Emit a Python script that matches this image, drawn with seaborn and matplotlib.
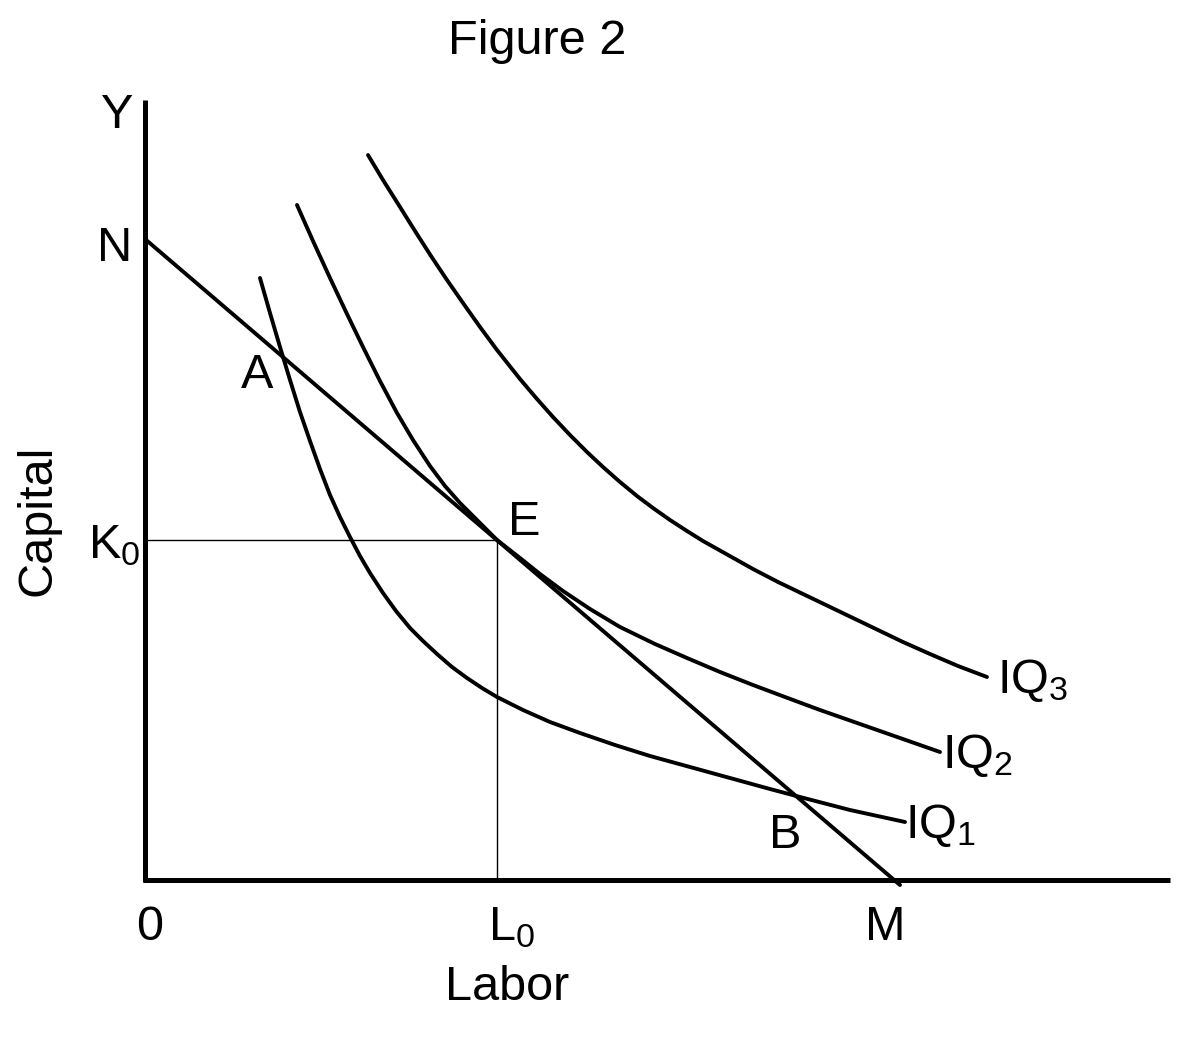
import matplotlib
matplotlib.use("Agg")
import matplotlib.pyplot as plt
import seaborn as sns

# Isoquant diagram: values
# (labor on x, capital on y, origin at 0)
iq1_labor = [115, 125, 135, 145, 155, 165, 175, 185, 195, 205, 215, 225, 238, 251, 265, 278,
             292, 307, 322, 337, 352, 378, 405, 435, 470, 505, 545, 585, 625, 655, 705, 760]
iq1_capital = [602, 567, 533, 500, 468, 439, 411, 385, 363, 343, 324, 307, 287, 269, 252, 239,
               226, 213, 202, 192, 183, 170, 158, 147, 135, 124, 113, 102, 91, 83, 70, 58]

iq2_labor = [152, 168, 185, 202, 218, 235, 252, 268, 285, 300, 315, 335, 352, 375, 395,
             418, 445, 475, 510, 542, 575, 608, 640, 675, 715, 755, 795]
iq2_capital = [675, 639, 602, 566, 533, 499, 467, 440, 414, 394, 377, 357, 340, 322, 306,
               289, 271, 253, 236, 222, 208, 195, 183, 170, 156, 142, 128]

iq3_labor = [223, 238, 255, 270, 286, 302, 318, 335, 352, 375, 392, 408, 425, 442, 458, 475,
             492, 508, 525, 542, 558, 583, 608, 633, 658, 683, 708, 733, 758, 785, 813, 842]
iq3_capital = [725, 700, 673, 649, 624, 600, 577, 553, 530, 501, 481, 463, 445, 428, 413, 398,
               384, 372, 360, 349, 339, 325, 311, 298, 286, 274, 262, 250, 238, 226, 214, 203]

budget_labor = [0, 755]
budget_capital = [641, -5]

L0 = 352
K0 = 340

x_axis_end = 1025
y_axis_end = 780

sns.set_style("white")
plt.rcParams["font.family"] = ["Liberation Sans", "DejaVu Sans"]
plt.rcParams["text.color"] = "black"
plt.rcParams["mathtext.fontset"] = "custom"
plt.rcParams["mathtext.rm"] = "Liberation Sans"
plt.rcParams["mathtext.it"] = "Liberation Sans"

fig = plt.figure(figsize=(12, 10.39), dpi=100)
ax = fig.add_axes([0, 0, 1, 1])
ax.set_xlim(-145, 1055)
ax.set_ylim(-159, 880)
ax.axis("off")

# axes of the diagram
ax.plot([0, 0], [-2, y_axis_end], color="black", lw=3.6, solid_capstyle="butt")
ax.plot([-2, x_axis_end], [0, 0], color="black", lw=3.6, solid_capstyle="butt")

# guide lines to E
ax.plot([0, L0], [K0, K0], color="black", lw=1.0)
ax.plot([L0, L0], [0, K0], color="black", lw=1.0)

# isocost line and isoquants
sns.lineplot(x=budget_labor, y=budget_capital, ax=ax, color="black", lw=2.8)
for xs, ys in [(iq1_labor, iq1_capital), (iq2_labor, iq2_capital), (iq3_labor, iq3_capital)]:
    sns.lineplot(x=xs, y=ys, ax=ax, color="black", lw=2.8, sort=False)

fs = 35
ax.text(392, 838, "Figure 2", fontsize=fs, ha="center", va="center")
ax.text(-28, 752, "Y", fontsize=fs, ha="center", va="baseline")
ax.text(-30, 619, "N", fontsize=fs, ha="center", va="baseline")
ax.text(112, 492, "A", fontsize=fs, ha="center", va="baseline")
ax.text(-4, 322, r"K$_0$", fontsize=fs, ha="right", va="baseline")
ax.text(379, 345, "E", fontsize=fs, ha="center", va="baseline")
ax.text(5, -60, "0", fontsize=fs, ha="center", va="baseline")
ax.text(343, -60, r"L$_0$", fontsize=fs, ha="left", va="baseline")
ax.text(740, -60, "M", fontsize=fs, ha="center", va="baseline")
ax.text(362, -120, "Labor", fontsize=fs, ha="center", va="baseline")
ax.text(-107, 360, "Capital", fontsize=fs, ha="center", va="center", rotation=90)
ax.text(640, 32, "B", fontsize=fs, ha="center", va="baseline")
ax.text(760, 42, r"IQ$_1$", fontsize=fs, ha="left", va="baseline")
ax.text(797, 112, r"IQ$_2$", fontsize=fs, ha="left", va="baseline")
ax.text(852, 187, r"IQ$_3$", fontsize=fs, ha="left", va="baseline")

fig.savefig("out.png", dpi=100)
